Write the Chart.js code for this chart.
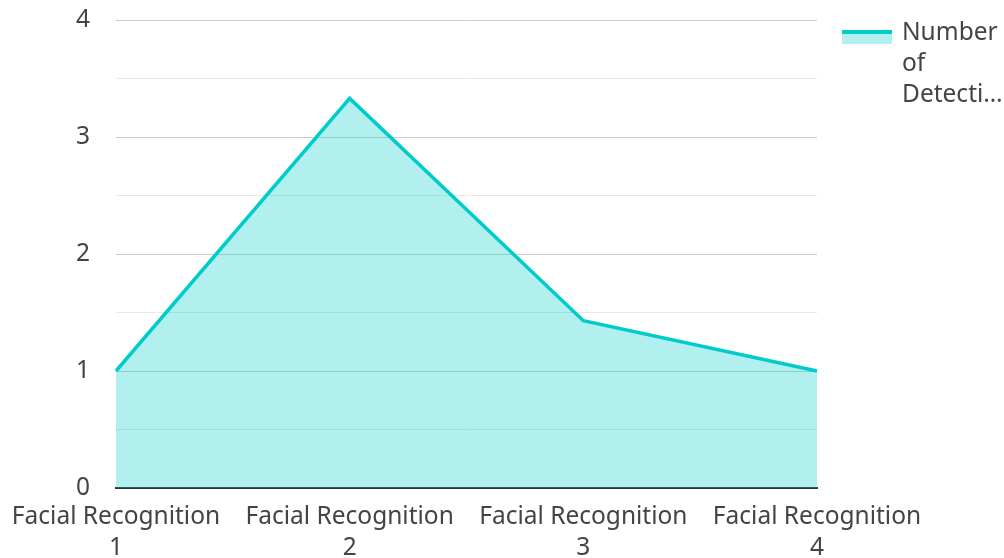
<!DOCTYPE html>
<html>
<head>
<meta charset="utf-8">
<script src="https://cdn.jsdelivr.net/npm/chart.js@4/dist/chart.umd.min.js"></script>
<style>
  html, body { margin: 0; padding: 0; background: #fff; }
  #wrap { width: 1004px; height: 558px; }
</style>
</head>
<body>
<div id="wrap"><canvas id="mainchart"></canvas></div>
<script>
// chart data
var categories = [
  ['Facial Recognition', '1'],
  ['Facial Recognition', '2'],
  ['Facial Recognition', '3'],
  ['Facial Recognition', '4']
];
var seriesName = 'Number of Detections';
var detections = [1, 3.33, 1.43, 1];
var yTicks = [0, 1, 2, 3, 4];

var lineColor = '#00cccc';
var fillColor = 'rgba(0, 204, 204, 0.3)';
var fontFamily = '"Noto Sans", "Open Sans", sans-serif';
var fontSize = 24.5;
var textColor = '#444';

// wraps the legend text into at most 3 lines and cuts the last with an ellipsis
function wrapText(ctx, text, maxWidth, maxLines) {
  var words = text.split(' ');
  var lines = [];
  var cur = '';
  words.forEach(function (w) {
    var test = cur ? cur + ' ' + w : w;
    if (ctx.measureText(test).width > maxWidth && cur) {
      lines.push(cur);
      cur = w;
    } else {
      cur = test;
    }
  });
  if (cur) lines.push(cur);
  lines = lines.slice(0, maxLines);
  lines = lines.map(function (l) {
    if (ctx.measureText(l).width <= maxWidth) return l;
    while (l.length > 1 && ctx.measureText(l + '…').width > maxWidth) {
      l = l.slice(0, -1);
    }
    return l + '…';
  });
  return lines;
}

// legend drawn by hand on the right so the label can wrap
var sideLegend = {
  id: 'sideLegend',
  afterDraw: function (chart) {
    var ctx = chart.ctx;
    var ds = chart.data.datasets[0];
    var x = 842, y = 30;
    ctx.save();
    ctx.fillStyle = fillColor;
    ctx.fillRect(x, y, 50, 14);
    ctx.fillStyle = lineColor;
    ctx.fillRect(x, y, 50, 4);
    ctx.font = fontSize + 'px ' + fontFamily;
    ctx.fillStyle = textColor;
    ctx.textBaseline = 'middle';
    var lines = wrapText(ctx, ds.label, 104, 3);
    lines.forEach(function (l, i) {
      ctx.fillText(l, 902, 33 + i * 31);
    });
    ctx.restore();
  }
};

new Chart('mainchart', {
  type: 'line',
  data: {
    labels: categories,
    datasets: [{
      label: seriesName,
      data: detections,
      borderColor: lineColor,
      backgroundColor: fillColor,
      borderWidth: 3.5,
      fill: 'origin',
      pointRadius: 0,
      tension: 0
    }]
  },
  options: {
    responsive: true,
    maintainAspectRatio: false,
    animation: false,
    layout: { autoPadding: false, padding: { top: 20, right: 187, left: 0, bottom: 0 } },
    plugins: {
      legend: { display: false },
      tooltip: { enabled: false }
    },
    scales: {
      x: {
        offset: false,
        grid: { display: false },
        border: { color: '#333', width: 2 },
        ticks: {
          color: textColor,
          font: { family: fontFamily, size: fontSize, lineHeight: 1.265 },
          maxRotation: 0,
          autoSkip: false,
          padding: 6
        },
        afterFit: function (s) {
          s.height = 70;
          s.paddingLeft = 0;
          s.paddingRight = 0;
        }
      },
      y: {
        min: 0,
        max: 4,
        border: { display: false },
        grid: {
          drawTicks: false,
          color: function (c) {
            if (c.tick.value === 0) return 'rgba(0,0,0,0)';
            return Number.isInteger(c.tick.value) ? '#cccccc' : '#e8e8e8';
          }
        },
        afterBuildTicks: function (s) {
          var t = [];
          yTicks.forEach(function (v, i) {
            t.push({ value: v });
            if (i < yTicks.length - 1) t.push({ value: v + 0.5 });
          });
          s.ticks = t;
        },
        ticks: {
          color: textColor,
          padding: 26,
          font: { family: fontFamily, size: fontSize },
          callback: function (v) { return Number.isInteger(v) ? v : ''; }
        },
        afterFit: function (s) {
          s.width = 116;
          s.paddingTop = 0;
          s.paddingBottom = 0;
        }
      }
    }
  },
  plugins: [sideLegend]
});
</script>
</body>
</html>
